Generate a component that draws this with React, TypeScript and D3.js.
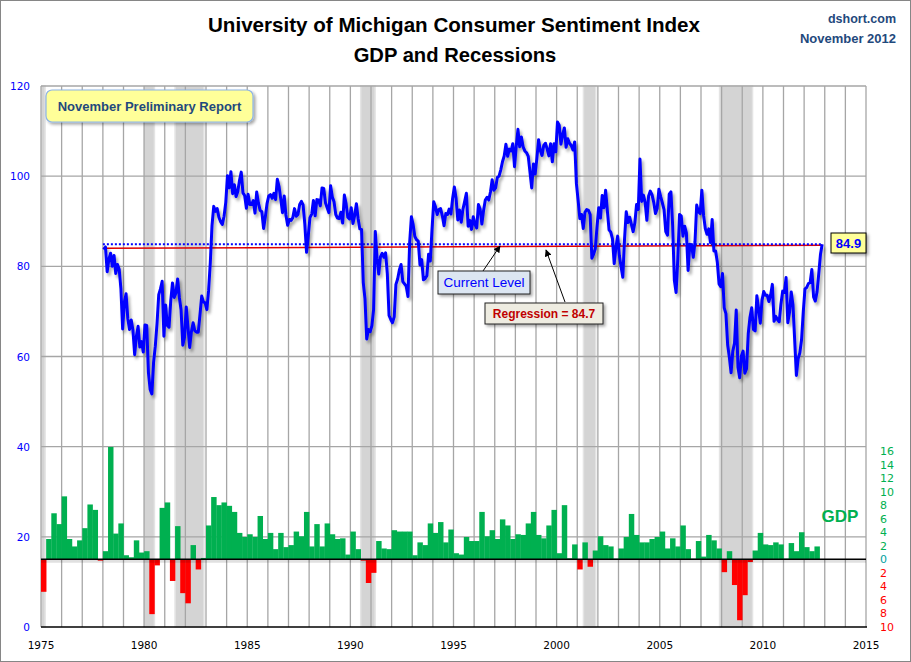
import React from "react";
import * as d3 from "d3";

// monthly consumer sentiment, Jan 1978 .. Nov 2012 (prelim)
const sentimentStartYear = 1978;
const sentiment = [
  83.7, 84.3, 78.8, 81.6, 82.9, 80.0, 82.4, 78.4, 80.4, 79.3, 75.0, 66.1,
  72.1, 73.9, 68.4, 66.0, 68.1, 65.8, 60.4, 64.5, 66.7, 62.1, 63.3, 61.0,
  67.0, 66.9, 56.5, 52.7, 51.7, 58.7, 62.3, 67.3, 73.7, 75.0, 76.7, 64.5,
  71.4, 66.9, 66.5, 72.4, 76.3, 73.1, 74.1, 77.2, 73.1, 70.3, 62.5, 64.3,
  71.0, 66.5, 62.0, 65.5, 67.5, 65.7, 65.4, 65.4, 69.3, 73.4, 72.1, 71.9,
  70.4, 74.6, 80.8, 89.1, 93.3, 92.2, 92.8, 90.9, 89.9, 89.3, 91.1, 94.2,
  100.1, 97.4, 101.0, 96.1, 98.1, 95.5, 96.6, 99.1, 100.9, 96.3, 95.7, 92.9,
  96.0, 93.7, 93.7, 94.6, 91.8, 96.5, 94.0, 92.4, 92.1, 88.4, 90.9, 93.9,
  95.6, 95.9, 95.1, 96.2, 94.8, 99.3, 97.7, 94.9, 91.9, 95.6, 91.4, 89.1,
  90.4, 90.2, 90.8, 92.8, 91.1, 91.5, 93.7, 94.4, 93.6, 89.3, 83.1, 86.8,
  90.8, 91.6, 94.6, 91.2, 94.8, 94.7, 93.4, 97.4, 97.3, 94.1, 93.0, 91.9,
  97.9, 95.4, 94.3, 91.5, 90.7, 90.6, 92.0, 89.6, 95.8, 93.9, 90.9, 90.5,
  93.0, 89.5, 91.3, 93.9, 90.6, 88.3, 88.2, 76.4, 72.8, 63.9, 66.0, 65.5,
  66.8, 70.4, 87.7, 81.8, 78.3, 82.1, 82.9, 82.0, 83.0, 78.3, 69.1, 68.2,
  67.5, 68.8, 76.0, 77.2, 79.2, 80.4, 76.6, 76.1, 75.6, 73.3, 85.3, 91.0,
  89.3, 86.6, 85.9, 85.6, 80.3, 81.5, 77.0, 77.3, 77.9, 82.7, 81.2, 88.2,
  94.3, 93.2, 91.5, 92.6, 92.8, 91.2, 89.0, 91.7, 91.5, 92.7, 91.6, 95.1,
  97.6, 95.1, 90.3, 92.5, 89.8, 92.7, 94.4, 96.2, 88.9, 90.2, 88.2, 91.0,
  89.3, 88.5, 93.7, 92.7, 89.4, 92.4, 94.7, 95.3, 94.7, 96.5, 99.2, 96.9,
  97.4, 99.7, 100.0, 101.4, 103.2, 104.5, 107.1, 104.4, 106.0, 105.6, 107.2, 102.1,
  106.6, 110.4, 106.5, 108.7, 106.5, 105.6, 105.2, 104.4, 100.9, 97.4, 102.7, 100.5,
  103.9, 108.1, 105.7, 104.6, 106.8, 107.3, 106.0, 104.5, 107.2, 103.2, 107.2, 105.4,
  112.0, 111.3, 107.1, 109.2, 110.7, 106.4, 108.3, 107.3, 106.8, 105.8, 107.6, 98.4,
  94.7, 90.6, 91.5, 88.4, 92.0, 92.6, 92.4, 91.5, 81.8, 82.7, 83.9, 88.8,
  93.0, 90.7, 95.7, 93.0, 96.9, 92.4, 88.1, 87.6, 86.1, 80.6, 84.2, 86.7,
  82.4, 79.9, 77.6, 86.0, 92.1, 89.7, 90.9, 89.3, 87.7, 89.6, 93.7, 92.6,
  103.8, 94.4, 95.8, 94.2, 90.2, 95.6, 96.7, 95.9, 94.2, 91.7, 92.8, 97.1,
  95.5, 94.1, 92.6, 87.7, 86.9, 96.0, 96.5, 89.1, 76.9, 74.2, 81.6, 91.5,
  91.2, 86.7, 88.9, 87.4, 79.1, 84.9, 84.7, 82.0, 85.4, 93.6, 92.1, 91.7,
  96.9, 91.3, 88.4, 87.1, 88.3, 85.3, 90.4, 83.4, 83.4, 80.9, 76.1, 75.5,
  78.4, 70.8, 69.5, 62.6, 59.8, 56.4, 61.2, 63.0, 70.3, 57.6, 55.3, 60.1,
  61.2, 56.3, 57.3, 65.1, 68.7, 70.8, 66.0, 65.7, 73.5, 70.6, 67.4, 72.5,
  74.4, 73.6, 73.6, 72.2, 73.6, 76.0, 67.8, 68.9, 68.2, 67.7, 71.6, 74.5,
  74.2, 77.5, 67.5, 69.8, 74.3, 71.5, 63.7, 55.8, 59.5, 60.8, 63.7, 69.9,
  75.0, 75.3, 76.2, 76.4, 79.3, 73.2, 72.3, 74.3, 78.3, 82.6, 84.9,
];

// quarterly real GDP growth (annualized %), 1975 Q1 .. 2012 Q3
const gdpStartYear = 1975;
const gdp = [
  -4.8, 3.0, 6.8, 5.2,
  9.3, 3.0, 1.9, 2.8,
  4.6, 8.1, 7.3, -0.2,
  1.2, 16.6, 3.8, 5.3,
  0.6, 0.3, 2.8, 1.0,
  1.2, -8.1, -0.9, 7.6,
  8.4, -3.2, 4.9, -5.0,
  -6.5, 2.1, -1.5, 0.2,
  5.0, 9.2, 8.0, 8.4,
  7.9, 7.0, 3.9, 3.3,
  3.7, 3.3, 6.4, 3.0,
  3.9, 1.5, 3.9, 1.8,
  2.1, 4.1, 3.4, 7.0,
  1.9, 5.2, 1.9, 5.3,
  3.7, 3.0, 3.1, 0.7,
  4.1, 1.5, -0.2, -3.5,
  -2.0, 2.7, 1.6, 1.5,
  4.3, 4.1, 4.1, 4.1,
  0.6, 2.5, 2.1, 5.3,
  3.9, 5.5, 2.5, 4.4,
  0.9, 0.7, 3.3, 2.7,
  2.7, 7.0, 3.4, 4.3,
  3.0, 5.9, 5.0, 3.0,
  3.7, 3.6, 5.3, 7.0,
  3.6, 3.1, 5.0, 7.3,
  0.9, 8.0, 0.15, 2.2,
  -1.5, 2.5, -1.1, 1.3,
  3.4, 2.1, 1.9, 0.1,
  1.6, 3.3, 6.7, 3.6,
  2.5, 2.5, 3.0, 3.3,
  4.1, 1.6, 3.1, 1.9,
  5.0, 1.5, 0.1, 2.7,
  0.4, 3.6, 2.8, 1.6,
  -1.9, 1.2, -3.8, -9.0,
  -5.3, -0.4, 1.3, 3.9,
  2.2, 2.1, 2.5, 2.2,
  0.1, 2.4, 1.2, 4.0,
  1.8, 1.2, 1.9,
];

// NBER recessions as [start, end] in decimal years
const recessions = [
  [1973.85, 1975.2],
  [1980.0, 1980.5],
  [1981.5, 1982.9],
  [1990.5, 1991.2],
  [2001.3, 2001.9],
  [2007.9, 2009.5],
];

const leftTicks = [0, 20, 40, 60, 80, 100, 120];
const rightTicks = [-10, -8, -6, -4, -2, 0, 2, 4, 6, 8, 10, 12, 14, 16];
const yearLabels = [1975, 1980, 1985, 1990, 1995, 2000, 2005, 2010, 2015];
const currentLevel = 84.9;
const regressionEnds = [84.0, 84.7];

const W = 911;
const H = 662;
const x = d3.scaleLinear().domain([1975, 2015]).range([41, 866]);
const y = d3.scaleLinear().domain([0, 120]).range([627, 86]);
const yG = d3.scaleLinear().domain([-10, 16]).range([627, 451]);

const monthX = (i: number) => sentimentStartYear + i / 12 + 1 / 24;
const lastX = monthX(sentiment.length - 1);

const gridColor = "#a6a6a6";
const navy = "#1f497d";
const axisFont = "'DejaVu Sans', Verdana, sans-serif";
const textFont = "'Liberation Sans', Arial, sans-serif";

export default function App() {
  const line = d3
    .line<number>()
    .x((d, i) => x(monthX(i)))
    .y((d) => y(d));

  const years = d3.range(1975, 2016);
  const qw = x(0.25) - x(0);

  return (
    <svg width={W} height={H} style={{ display: "block" }}>
      <style>{`body{margin:0}`}</style>
      <defs>
        <clipPath id="plot">
          <rect x={41} y={80} width={825} height={550} />
        </clipPath>
        <filter id="shadow" x="-10%" y="-10%" width="130%" height="140%">
          <feDropShadow dx="2" dy="3" stdDeviation="1.5" floodColor="#000" floodOpacity="0.35" />
        </filter>
        <filter id="boxShadow" x="-10%" y="-20%" width="130%" height="160%">
          <feDropShadow dx="2" dy="2" stdDeviation="1.5" floodColor="#000" floodOpacity="0.35" />
        </filter>
        <marker id="arrow" viewBox="0 0 10 10" refX="9" refY="5" markerWidth="7" markerHeight="7" orient="auto">
          <path d="M0,0 L10,5 L0,10 z" fill="#000" />
        </marker>
      </defs>

      <rect x={0.5} y={0.5} width={W - 1} height={H - 1} fill="#fff" stroke="#868686" />

      {/* recession bands */}
      <g clipPath="url(#plot)">
        {recessions.map(([a, b], i) => (
          <rect
            key={i}
            x={Math.max(x(a), 41)}
            y={y(120)}
            width={x(b) - Math.max(x(a), 41)}
            height={y(0) - y(120)}
            fill="#d4d4d4"
            stroke="#e4e4e4"
            strokeWidth={1.5}
          />
        ))}
      </g>

      {/* grid */}
      {years.map((yr) => (
        <line key={yr} x1={x(yr)} x2={x(yr)} y1={y(120)} y2={y(0)} stroke={gridColor} strokeWidth={1.3} />
      ))}
      {leftTicks.filter((t) => t > 0).map((t) => (
        <line key={t} x1={x(1975)} x2={x(2015)} y1={y(t)} y2={y(t)} stroke={gridColor} strokeWidth={1.3} />
      ))}

      {/* GDP bars */}
      {gdp.map((v, i) => {
        const x0 = x(gdpStartYear + i * 0.25);
        const top = v >= 0 ? yG(v) : yG(0);
        return (
          <rect
            key={i}
            x={x0}
            y={top}
            width={qw + 0.3}
            height={Math.abs(yG(v) - yG(0))}
            fill={v >= 0 ? "#00b050" : "#ff0000"}
          />
        );
      })}
      <line x1={x(1975)} x2={x(2015)} y1={yG(0) + 2} y2={yG(0) + 2} stroke="#000" strokeOpacity={0.12} strokeWidth={3} />
      <line x1={x(1975)} x2={x(2015)} y1={yG(0)} y2={yG(0)} stroke="#000" strokeWidth={1.5} />
      <line x1={x(1975)} x2={x(2015) + 1} y1={y(0)} y2={y(0)} stroke="#000" strokeWidth={1.5} />

      {/* regression & current level */}
      <line
        x1={x(sentimentStartYear)}
        x2={x(lastX)}
        y1={y(regressionEnds[0])}
        y2={y(regressionEnds[1])}
        stroke="#e00000"
        strokeWidth={1.5}
      />
      <line
        x1={x(sentimentStartYear)}
        x2={x(lastX)}
        y1={y(currentLevel)}
        y2={y(currentLevel)}
        stroke="#0000ff"
        strokeWidth={2}
        strokeDasharray="2 2"
      />

      {/* sentiment */}
      <path
        d={line(sentiment) || ""}
        fill="none"
        stroke="#0000ff"
        strokeWidth={3}
        strokeLinejoin="round"
        filter="url(#shadow)"
      />

      {/* left axis */}
      {leftTicks.map((t) => (
        <text key={t} x={30} y={y(t) + 4} textAnchor="end" fontFamily={axisFont} fontSize={10.5} fill="#0000ff">
          {t}
        </text>
      ))}
      {/* right axis (GDP %) */}
      {rightTicks.map((t) => (
        <text
          key={t}
          x={880}
          y={yG(t) + 4}
          fontFamily={axisFont}
          fontSize={11}
          fill={t > 0 ? "#00b050" : t === 0 ? "#00a0a0" : "#ff0000"}
        >
          {Math.abs(t)}
        </text>
      ))}
      {/* bottom axis */}
      {yearLabels.map((yr) => (
        <text key={yr} x={x(yr)} y={649} textAnchor="middle" fontFamily={axisFont} fontSize={10.5} fill="#000">
          {yr}
        </text>
      ))}

      {/* titles */}
      <text x={454} y={32} textAnchor="middle" fontFamily={textFont} fontWeight="bold" fontSize={20.6} fill="#000">
        University of Michigan Consumer Sentiment Index
      </text>
      <text x={455} y={62} textAnchor="middle" fontFamily={textFont} fontWeight="bold" fontSize={20.2} fill="#000">
        GDP and Recessions
      </text>
      <text x={896} y={23} textAnchor="end" fontFamily={textFont} fontWeight="bold" fontSize={12.5} fill={navy}>
        dshort.com
      </text>
      <text x={896} y={43} textAnchor="end" fontFamily={textFont} fontWeight="bold" fontSize={13} fill={navy}>
        November 2012
      </text>

      {/* annotations */}
      <g filter="url(#boxShadow)">
        <rect x={46} y={90} width={207} height={32} rx={6} fill="#ffff99" stroke="#8eb4e3" strokeWidth={1.2} />
      </g>
      <text x={149.5} y={110.5} textAnchor="middle" fontFamily={textFont} fontWeight="bold" fontSize={13} fill={navy}>
        November Preliminary Report
      </text>

      <text x={840} y={522} fontFamily={textFont} fontWeight="bold" fontSize={17} fill="#00b050" textAnchor="middle">
        GDP
      </text>

      <line x1={483} y1={271} x2={500} y2={246} stroke="#000" strokeWidth={1} markerEnd="url(#arrow)" />
      <line x1={565} y1={302} x2={546} y2={250} stroke="#000" strokeWidth={1} markerEnd="url(#arrow)" />

      <g filter="url(#boxShadow)">
        <rect x={438} y={271} width={92} height={23} fill="#dce6f2" stroke="#222" strokeWidth={1} />
      </g>
      <text x={484} y={287} textAnchor="middle" fontFamily={textFont} fontSize={13.5} fill="#0000ff">
        Current Level
      </text>

      <g filter="url(#boxShadow)">
        <rect x={485} y={303} width={118} height={21} fill="#eeece1" stroke="#222" strokeWidth={1} />
      </g>
      <text x={544} y={318} textAnchor="middle" fontFamily={textFont} fontWeight="bold" fontSize={12} fill="#c00000">
        Regression = 84.7
      </text>

      <g filter="url(#boxShadow)">
        <rect x={831} y={233} width={35} height={20} fill="#ffff99" stroke="#000" strokeWidth={1} />
      </g>
      <text x={848.5} y={248} textAnchor="middle" fontFamily={textFont} fontWeight="bold" fontSize={13} fill="#0000ff">
        {currentLevel}
      </text>
    </svg>
  );
}
